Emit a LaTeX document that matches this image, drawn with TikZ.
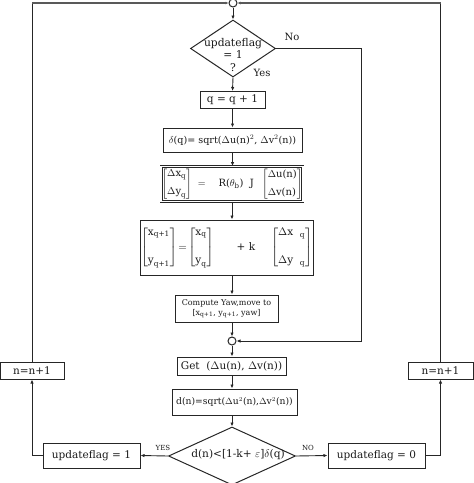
\documentclass[tikz,border=0pt]{standalone}
\usepackage{amsmath}
\usepackage{fontspec}
\setmainfont{DejaVu Serif}
\usetikzlibrary{shapes.geometric,arrows.meta}
\begin{document}
\begin{tikzpicture}[x=1pt,y=-1pt,
  every node/.style={font=\fontsize{10.5}{12}\selectfont, text=black!90},
  box/.style={draw=black!85, line width=1pt, rectangle, inner sep=0pt},
  dia/.style={draw=black!85, line width=1pt, diamond, inner sep=0pt},
  junc/.style={draw=black!85, line width=1pt, circle, minimum size=8pt, inner sep=0pt},
  con/.style={draw=black!85, line width=0.9pt},
  arr/.style={con, -{Latex[length=4pt,width=3.4pt]}},
  topln/.style={draw=black!65, line width=2.8pt},
  lbl/.style={font=\fontsize{7}{9}\selectfont}
]
\useasboundingbox (0,0) rectangle (474,483);

% nodes
\node[junc] (topc) at (233,3) {};
\node[dia, minimum width=85pt, minimum height=57pt] (d1) at (233,48.5) {};
\node[align=center, font=\fontsize{10.7}{12.5}\selectfont] (d1t) at (233,55) {updateflag\\= 1\\?};
\node[box, minimum width=65pt, minimum height=17pt] (q1) at (232.5,100) {q = q + 1};
\node[box, minimum width=139pt, minimum height=24pt, font=\fontsize{9.6}{11}\selectfont] (dq) at (232.5,140)
  {$\delta$(q)= sqrt($\Delta$u(n)$^2$, $\Delta$v$^2$(n))};
\node[box, double, double distance=1.8pt, line width=0.8pt, minimum width=137pt, minimum height=35pt, font=\fontsize{10}{11}\selectfont] (m1) at (232,184)
  {$\left[\begin{array}{@{}l@{}}\Delta\text{x}_\text{q}\\[7pt]\Delta\text{y}_\text{q}\end{array}\right]\ =\quad\text{R(}\theta_{\text{b}}\text{)}\ \ \text{J}\ \ \left[\begin{array}{@{}l@{}}\Delta\text{u(n)}\\[7pt]\Delta\text{v(n)}\end{array}\right]$};
\node[box, minimum width=173pt, minimum height=55pt, font=\fontsize{10.5}{11}\selectfont] (m2) at (226.5,247.5)
  {$\left[\begin{array}{@{}l@{}}\text{x}_\text{q+1}\\[17pt]\text{y}_\text{q+1}\end{array}\right]\!=\!\left[\begin{array}{@{}l@{}}\text{x}_\text{q}\\[17pt]\text{y}_\text{q}\end{array}\right]\qquad\text{+ k}\quad\ \left[\begin{array}{@{}l@{}}\Delta\text{x}\ \ {}_\text{q}\\[17pt]\Delta\text{y}\ \ {}_\text{q}\end{array}\right]$};
\node[box, align=center, font=\fontsize{8}{10}\selectfont, minimum width=103pt, minimum height=27pt] (cy) at (226.5,308.5)
  {Compute Yaw,move to\\{[}x$_\text{q+1}$, y$_\text{q+1}$, yaw]};
\node[junc] (jc) at (232,341) {};
\node[box, minimum width=109pt, minimum height=18pt] (get) at (231.5,366) {Get\ \ ($\Delta$u(n), $\Delta$v(n))};
\node[box, minimum width=125pt, minimum height=26pt, font=\fontsize{9.2}{11}\selectfont] (dn) at (234.5,402)
  {d(n)=sqrt($\Delta$u$^2$(n),$\Delta$v$^2$(n))};
\node[dia, minimum width=127pt, minimum height=58pt] (d2) at (232,456) {};
\node[font=\fontsize{10.6}{13}\selectfont] (d2t) at (238,455) {d(n)<[1-k+ $\varepsilon$]$\delta$(q)};
\node[box, minimum width=97pt, minimum height=25pt] (uf1) at (91.5,455.5) {updateflag = 1};
\node[box, minimum width=97pt, minimum height=25pt] (uf0) at (376.5,455.5) {updateflag = 0};
\node[box, minimum width=64pt, minimum height=17pt] (nL) at (32,370.5) {n=n+1};
\node[box, minimum width=65pt, minimum height=17pt] (nR) at (440.5,370.5) {n=n+1};
\coordinate (nocorner) at (361,48.5);
\coordinate (downend) at (232,500);

% labels
\node[font=\fontsize{10}{12}\selectfont] (nolbl) at (292,37) {No};
\node[font=\fontsize{10}{12}\selectfont] (yeslbl) at (262,73) {Yes};
\node[lbl] (yes2) at (163,448) {YES};
\node[lbl] (no2) at (308,448) {NO};

% connectors
\draw[arr] (topc) -- (d1.north);
\draw[arr] (d1.south) -- (q1.north);
\draw[arr] (d1.east) -- (nocorner) |- (jc.east);
\draw[arr] (q1) -- (dq);
\draw[arr] (dq.south) -- (dq.south |- m1.north);
\draw[arr] (m1.south) -- (m1.south |- m2.north);
\draw[arr] (m1.south |- m2.south) -- (m1.south |- cy.north);
\draw[arr] (m1.south |- cy.south) -- (jc.north);
\draw[arr] (jc.south) -- (jc.south |- get.north);
\draw[arr] (jc.south |- get.south) -- (jc.south |- dn.north);
\draw[arr] (jc.south |- dn.south) -- (d2.north);
\draw[arr] (d2.south) -- (downend);
\draw[arr] (d2.west) -- (uf1.east);
\draw[arr] (d2.east) -- (uf0.west);
\draw[arr] (uf1.west) -| (nL.south);
\draw[arr] (uf0.east) -| (nR.south);
\draw[con] (nL.north) -- (nL.north |- topc);
\draw[con] (nR.north) -- (nR.north |- topc);
\draw[topln, -{Latex[length=3pt,width=3pt]}] (nL.north |- topc) -- (topc.west);
\draw[topln, -{Latex[length=3pt,width=3pt]}] (nR.north |- topc) -- (topc.east);
\end{tikzpicture}
\end{document}
